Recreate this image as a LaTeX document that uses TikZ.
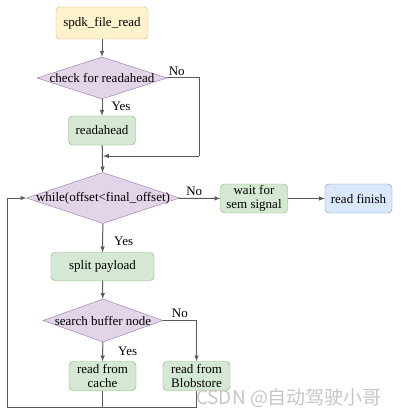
\documentclass[tikz,border=0pt]{standalone}
\usepackage{fontspec}
\setmainfont{Liberation Serif}
\newfontfamily\cjkfont{Noto Sans CJK SC}
\usetikzlibrary{shapes.geometric, positioning, arrows}

\definecolor{startfill}{HTML}{FFF2CC}
\definecolor{startdraw}{HTML}{D6B656}
\definecolor{askfill}{HTML}{E1D5E7}
\definecolor{askdraw}{HTML}{9673A6}
\definecolor{stepfill}{HTML}{D5E8D4}
\definecolor{stepdraw}{HTML}{82B366}
\definecolor{endfill}{HTML}{DAE8FC}
\definecolor{enddraw}{HTML}{6C8EBF}
\definecolor{wire}{HTML}{595959}

\newcommand{\asktext}[1]{\makebox[0pt]{#1}}

\begin{document}
\begin{tikzpicture}[
						x=1pt, y=-1pt,
						every node/.style={font=\fontsize{13}{14}\selectfont},
						stepbox/.style={draw=stepdraw, fill=stepfill, rounded corners=4pt,
								minimum width=67pt, minimum height=29pt, inner sep=1pt,
								align=center, font=\fontsize{13}{14.5}\selectfont},
						askbox/.style={diamond, draw=askdraw, fill=askfill, inner sep=0pt},
						wire/.style={draw=wire, line width=1pt},
						arrow/.style={wire, -latex},
						lbl/.style={inner sep=2pt}
				]
    \useasboundingbox (0,0) rectangle (400,417);

    % main column
    \node [stepbox, draw=startdraw, fill=startfill, minimum width=92pt,
				minimum height=32pt] (Start) at (102,23) {spdk\_file\_read};
    \node [askbox, minimum width=130pt, minimum height=42pt] (Check) at (102,78)
				{\asktext{check for readahead}};
    \node [stepbox] (Readahead) at (102,130.5) {readahead};
    \node [askbox, minimum width=153pt, minimum height=51pt] (Loop) at (103,198)
				{\asktext{while(offset<final\_offset)}};
    \node [stepbox] (Wait) at (254,198.5) {wait for\\sem signal};
    \node [stepbox, draw=enddraw, fill=endfill] (Finish) at (358.5,198.5) {read finish};
    \node [stepbox, minimum width=103pt, minimum height=28pt] (Split) at (102.5,266.5)
				{split payload};
    \node [askbox, minimum width=120pt, minimum height=43pt] (Search) at (103,320.5)
				{\asktext{search buffer node}};
    \node [stepbox] (Cache) at (102.5,376) {read from\\cache};
    \node [stepbox] (Blob) at (196.5,376) {read from\\Blobstore};

    \coordinate (Skip) at (199,156);
    \coordinate (Corner) at (7,407);

    % arrows
    \draw[arrow] (Start) -- (Check);
    \draw[arrow] (Check) -- node [lbl, right, xshift=7pt, yshift=1pt] (YesCheck) {Yes} (Readahead);
    \draw[wire] (Check.east) -- node [lbl, above, pos=0.3] (NoCheck) {No} (Check.east -| Skip) -- (Skip);
    \draw[arrow] (Skip) -- ([xshift=1pt]Readahead.south |- Skip);
    \draw[arrow] (Readahead) -- (Loop);
    \draw[arrow] (Loop) -- node [lbl, right, xshift=9pt, yshift=-3pt] (YesLoop) {Yes} (Split);
    \draw[arrow] (Loop) -- node [lbl, above, pos=0.37] (NoLoop) {No} (Wait);
    \draw[arrow] (Wait) -- (Finish);
    \draw[arrow] (Split) -- (Search);
    \draw[arrow] (Search) -- node [lbl, right, xshift=13pt, yshift=0pt] (YesSearch) {Yes} (Cache);
    \draw[arrow] (Search.east) -- node [lbl, above, pos=0.5] (NoSearch) {No} (Search.east -| Blob) -- (Blob);

    % back to the loop
    \draw[wire] (Cache) -- (Cache.south |- Corner);
    \draw[arrow] (Blob) |- (Corner) |- (Loop.west);

    \node [text=gray!45, font=\cjkfont\fontsize{19}{21}\selectfont] (Mark) at (289,398)
				{CSDN @自动驾驶小哥};

  \end{tikzpicture}
\end{document}
